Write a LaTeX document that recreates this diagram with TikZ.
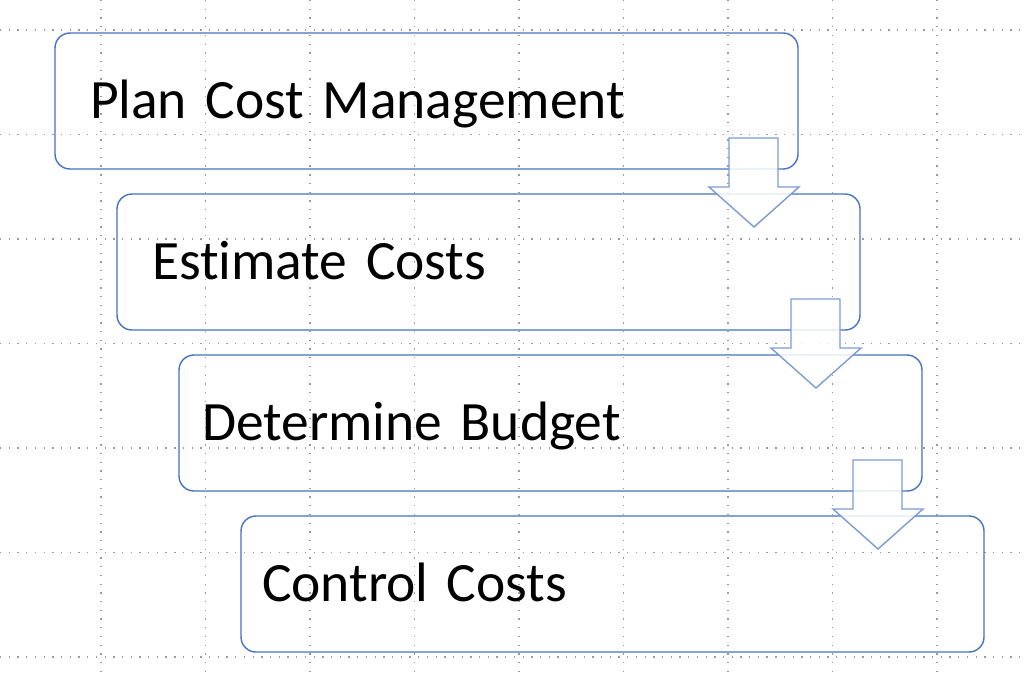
\documentclass[tikz,border=0pt]{standalone}
\usepackage{fontspec}
\setmainfont{Carlito}[Ligatures=NoCommon, WordSpace=0.85]
\usetikzlibrary{positioning,calc}
\definecolor{boxblue}{HTML}{4472C4}
\definecolor{arrowblue}{HTML}{7B9BD6}
\definecolor{gridgray}{HTML}{9A9A9A}

\tikzset{
  stepbox/.style={draw=boxblue, line width=1.4pt, rounded corners=15pt, outer sep=0pt,
    minimum width=743pt, minimum height=136pt, text width=743pt-2*#1, align=left,
    inner xsep=#1, inner ysep=0pt, text height=35pt, text depth=0pt,
    font=\fontsize{55.5}{60}\selectfont},
  stepbox/.default=35pt,
  downarrow/.style={draw=arrowblue, line width=1.4pt, fill=white, fill opacity=0.85, line join=miter},
  gridline/.style={gridgray, line width=1.3pt, dash pattern=on 1.3pt off 7.41pt}
}

\begin{document}
\begin{tikzpicture}[x=1pt,y=-1pt]
  \useasboundingbox (0,0) rectangle (1024,673);

  % dotted grid
  \foreach \i in {0,...,8}
    \draw[gridline] (101+104.5*\i,0) -- (101+104.5*\i,673);
  \foreach \j in {0,...,6}
    \draw[gridline] (0,30+104.5*\j) -- (1024,30+104.5*\j);

  % steps
  \node[stepbox] (plan) at (426.5,101) {Plan Cost Management};
  \node[stepbox, below=25pt of plan, xshift=62pt] (estimate) {Estimate Costs};
  \node[stepbox=23pt, below=25pt of estimate, xshift=62pt] (budget) {Determine Budget};
  \node[stepbox=21pt, below=25pt of budget, xshift=62pt] (control) {Control Costs};

  % block arrows between steps
  \foreach \s in {plan,estimate,budget}
    \draw[downarrow] ($(\s.south east)+(-69,-31)$) -- ++(49,0) -- ++(0,49) -- ++(21,0)
      -- ++(-45,40) -- ++(-45,-40) -- ++(20,0) -- cycle;
\end{tikzpicture}
\end{document}
